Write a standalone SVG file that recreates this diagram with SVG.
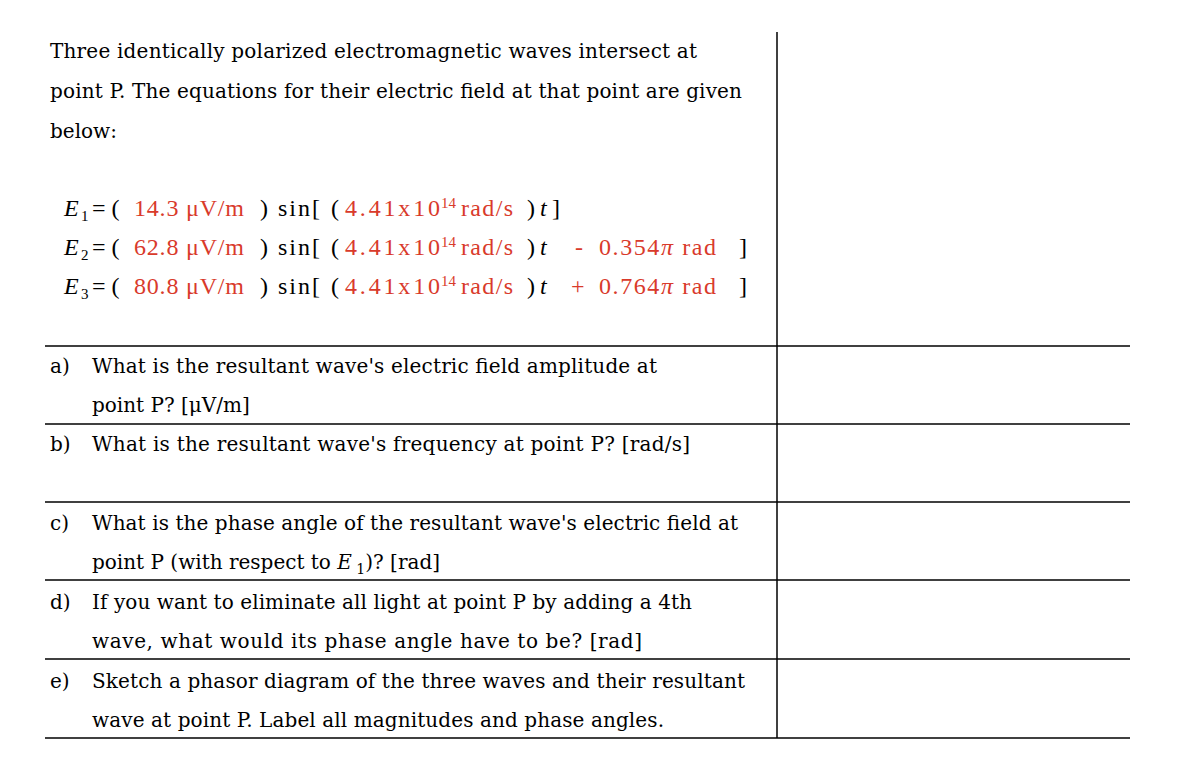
<svg xmlns="http://www.w3.org/2000/svg" width="1196" height="772" viewBox="0 0 1196 772">
<style>
.t{font-family:"DejaVu Serif","Liberation Serif",serif;font-size:20px;fill:#000}
.e{font-family:"Liberation Serif",serif;font-size:24px;fill:#000}
.r{fill:#d93a2b}
.i{font-style:italic}
.s{font-size:15px}
.ln{stroke:#000;stroke-width:1.5}
</style>
<rect width="1196" height="772" fill="#fff"/>
<g id="grid">
<line class="ln" x1="777" y1="32" x2="777" y2="738"/>
<line class="ln" x1="45" y1="346" x2="1130" y2="346"/>
<line class="ln" x1="45" y1="424" x2="1130" y2="424"/>
<line class="ln" x1="45" y1="502" x2="1130" y2="502"/>
<line class="ln" x1="45" y1="580" x2="1130" y2="580"/>
<line class="ln" x1="45" y1="659" x2="1130" y2="659"/>
<line class="ln" x1="45" y1="738" x2="1130" y2="738"/>
</g>
<g id="intro">
<text class="t" x="50" y="58" textLength="647">Three identically polarized electromagnetic waves intersect at</text>
<text class="t" x="50" y="98" textLength="692">point P. The equations for their electric field at that point are given</text>
<text class="t" x="50" y="138">below:</text>
</g>
<g id="eqs">
<text class="e" y="216"><tspan class="i" x="64">E</tspan><tspan class="s" x="81" dy="5">1</tspan><tspan x="92" dy="-5">= (</tspan><tspan class="r" x="134" textLength="110">14.3 μV/m</tspan><tspan x="260" textLength="60">) sin[</tspan><tspan x="331">(</tspan><tspan class="r" x="345" textLength="95">4.41x10</tspan><tspan class="r s" x="441" dy="-8">14</tspan><tspan class="r" x="461" dy="8" textLength="52">rad/s</tspan><tspan x="527">)</tspan><tspan class="i" x="540">t</tspan><tspan x="552">]</tspan></text>
<text class="e" y="255"><tspan class="i" x="64">E</tspan><tspan class="s" x="81" dy="5">2</tspan><tspan x="92" dy="-5">= (</tspan><tspan class="r" x="134" textLength="110">62.8 μV/m</tspan><tspan x="260" textLength="60">) sin[</tspan><tspan x="331">(</tspan><tspan class="r" x="345" textLength="95">4.41x10</tspan><tspan class="r s" x="441" dy="-8">14</tspan><tspan class="r" x="461" dy="8" textLength="52">rad/s</tspan><tspan x="527">)</tspan><tspan class="i" x="540">t</tspan><tspan class="r" x="575">-</tspan><tspan class="r" x="599" textLength="117">0.354<tspan class="i">π</tspan> rad</tspan><tspan x="739">]</tspan></text>
<text class="e" y="294"><tspan class="i" x="64">E</tspan><tspan class="s" x="81" dy="5">3</tspan><tspan x="92" dy="-5">= (</tspan><tspan class="r" x="134" textLength="110">80.8 μV/m</tspan><tspan x="260" textLength="60">) sin[</tspan><tspan x="331">(</tspan><tspan class="r" x="345" textLength="95">4.41x10</tspan><tspan class="r s" x="441" dy="-8">14</tspan><tspan class="r" x="461" dy="8" textLength="52">rad/s</tspan><tspan x="527">)</tspan><tspan class="i" x="540">t</tspan><tspan class="r" x="571">+</tspan><tspan class="r" x="599" textLength="117">0.764<tspan class="i">π</tspan> rad</tspan><tspan x="739">]</tspan></text>
</g>
<g id="questions">
<text class="t" x="50" y="373">a)</text>
<text class="t" x="92" y="373" textLength="565">What is the resultant wave's electric field amplitude at</text>
<text class="t" x="92" y="412">point P? [μV/m]</text>
<text class="t" x="50" y="451">b)</text>
<text class="t" x="92" y="451" textLength="598">What is the resultant wave's frequency at point P? [rad/s]</text>
<text class="t" x="50" y="530">c)</text>
<text class="t" x="92" y="530" textLength="646">What is the phase angle of the resultant wave's electric field at</text>
<text class="t" x="92" y="569">point P (with respect to <tspan font-style="italic">E</tspan><tspan font-size="14" dy="5"> 1</tspan><tspan dy="-5">)? [rad]</tspan></text>
<text class="t" x="50" y="609">d)</text>
<text class="t" x="92" y="609" textLength="600">If you want to eliminate all light at point P by adding a 4th</text>
<text class="t" x="92" y="648" textLength="550">wave, what would its phase angle have to be? [rad]</text>
<text class="t" x="50" y="688">e)</text>
<text class="t" x="92" y="688" textLength="653">Sketch a phasor diagram of the three waves and their resultant</text>
<text class="t" x="92" y="727" textLength="572">wave at point P. Label all magnitudes and phase angles.</text>
</g>
</svg>
